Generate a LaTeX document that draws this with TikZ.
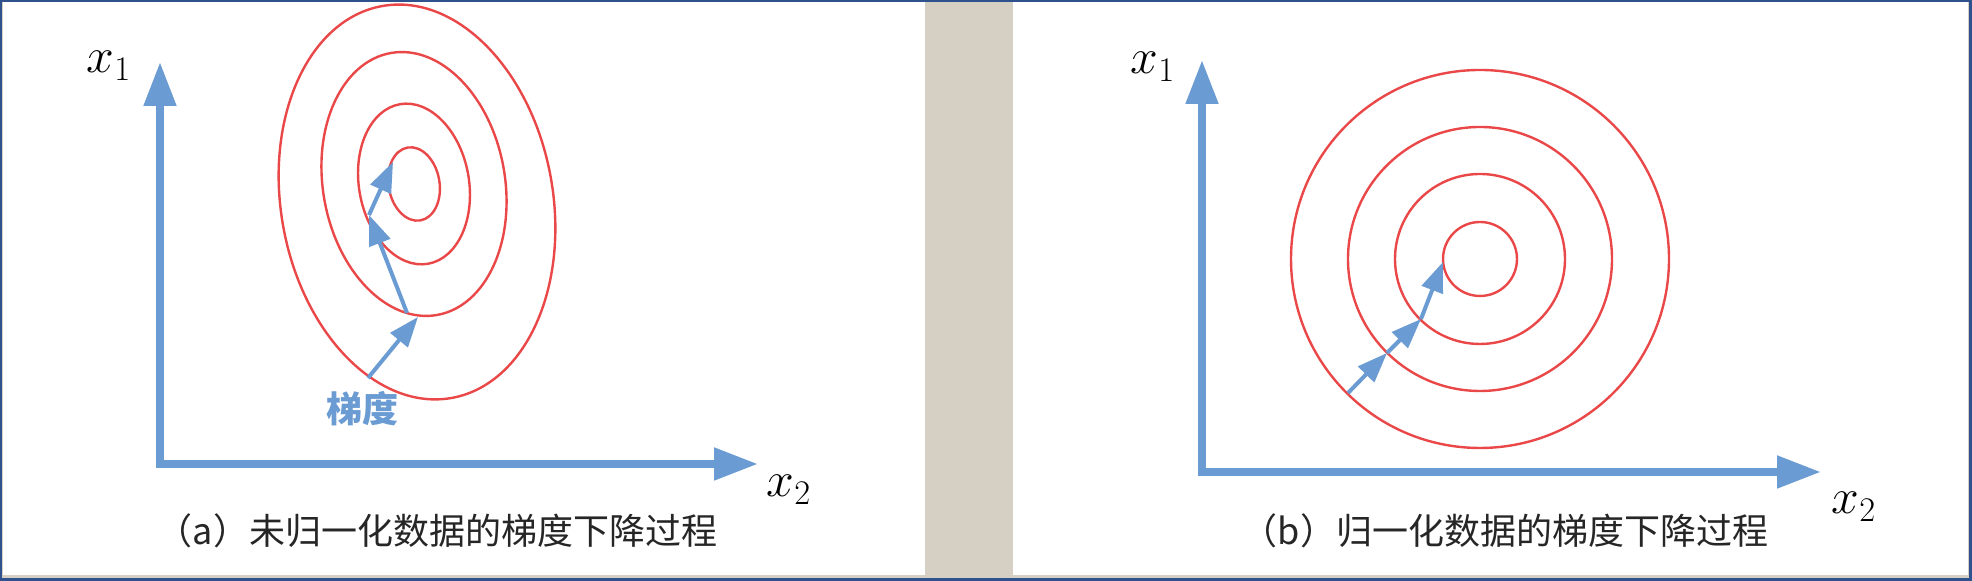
\documentclass[tikz,border=0pt]{standalone}
\usepackage{fontspec}
\newfontfamily\cjk{Noto Sans CJK SC}
\usetikzlibrary{arrows.meta}
\definecolor{axisblue}{RGB}{106,155,210}
\definecolor{contourred}{RGB}{234,72,72}
\definecolor{framenavy}{RGB}{47,82,143}
\definecolor{bandgray}{RGB}{214,207,196}

\begin{document}
\begin{tikzpicture}[x=0.5pt,y=0.5pt,
        axisline/.style={draw=axisblue, line width=4pt,
          {Triangle[length=22pt,width=15.5pt]}-{Triangle[length=22pt,width=15.5pt]}},
        gradarrow/.style={draw=axisblue, line width=2pt, -{Triangle[length=15pt,width=11pt]}},
        contour/.style={draw=contourred, line width=1.2pt},
        axislabel/.style={inner sep=0pt, font=\fontsize{27}{30}\selectfont},
        gradlabel/.style={inner sep=0pt, text=axisblue, font=\cjk\bfseries\fontsize{18}{20}\selectfont},
        captiontext/.style={inner sep=0pt, text=black!85, font=\cjk\fontsize{18}{20}\selectfont},
      ]
      % Frame and panels
      \useasboundingbox (0,0) rectangle (1972,581);
      \fill[framenavy] (0,0) rectangle (1972,581);
      \fill[bandgray] (2,3) rectangle (1969,579);
      \fill[white] (3,6) rectangle (925,579);
      \fill[white] (1013,6) rectangle (1968,579);

      % (a) not normalised
      \coordinate (a-ytip) at (160,519);
      \coordinate (a-xtip) at (758,117);
      \draw[axisline] (a-ytip) |- (a-xtip);

      \draw[contour, rotate around={10:(417,379)}] (417,379) ellipse [x radius=136, y radius=199];
      \foreach \xr/\yr in {91/133, 55/81, 25.5/37}
        \draw[contour, rotate around={10:(414,397)}] (414,397) ellipse [x radius=\xr, y radius=\yr];

      \coordinate (a-g0) at (368,203);
      \coordinate (a-g1) at (418,264);
      \coordinate (a-g1s) at (407,268);
      \coordinate (a-g2) at (369,366);
      \coordinate (a-g3) at (393,419);
      \draw[gradarrow] (a-g0) -- (a-g1);
      \draw[gradarrow] (a-g1s) -- (a-g2);
      \draw[gradarrow] (a-g2) -- (a-g3);

      \node[axislabel] (a-x1) at (109,515) {$x_1$};
      \node[axislabel] (a-x2) at (789,91) {$x_2$};
      \node[gradlabel] (a-grad) at (362,172) {梯度};
      \node[captiontext] (a-cap) at (437,50) {（a）未归一化数据的梯度下降过程};

      % (b) normalised
      \coordinate (b-ytip) at (1202,521);
      \coordinate (b-xtip) at (1821,109);
      \draw[axisline] (b-ytip) |- (b-xtip);

      \foreach \r in {189,132,85,37}
        \draw[contour] (1480,322) circle [radius=\r];

      \coordinate (b-g0) at (1348,188);
      \coordinate (b-g1) at (1387,228);
      \coordinate (b-g2) at (1421,262);
      \coordinate (b-g3) at (1443,319);
      \foreach \s/\t in {b-g0/b-g1, b-g1/b-g2, b-g2/b-g3}
        \draw[gradarrow] (\s) -- (\t);

      \node[axislabel] (b-x1) at (1153,514) {$x_1$};
      \node[axislabel] (b-x2) at (1854,74) {$x_2$};
      \node[captiontext] (b-cap) at (1505,50) {（b）归一化数据的梯度下降过程};
    \end{tikzpicture}
\end{document}
